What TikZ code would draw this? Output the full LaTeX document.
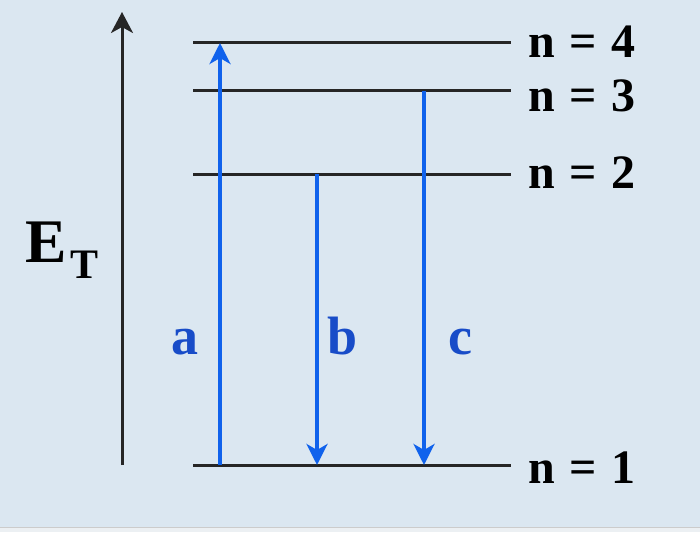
\documentclass[tikz,border=0pt]{standalone}
\usepackage{fontspec}
\setmainfont{Liberation Serif}
\usetikzlibrary{arrows.meta}
\definecolor{screen}{RGB}{219,231,241}
\definecolor{screenedge}{RGB}{236,240,243}
\definecolor{transblue}{RGB}{16,98,236}
\definecolor{labelblue}{RGB}{24,76,200}
\tikzset{
  level/.style={line width=3pt,black!85},
  axis/.style={line width=3pt,black!85,-{Stealth[length=21pt,width=22pt,inset=6pt]}},
  trans/.style={line width=4.2pt,transblue,-{Stealth[length=21pt,width=21pt,inset=6pt]}},
  nlabel/.style={anchor=base west,inner sep=0pt,font=\fontsize{48}{48}\selectfont\bfseries},
  tlabel/.style={anchor=base,inner sep=0pt,text=labelblue,font=\fontsize{54}{54}\selectfont\bfseries}
}
\begin{document}
\begin{tikzpicture}[x=1pt,y=-1pt]
  \useasboundingbox (0,0) rectangle (700,532);
  \fill[screen] (0,0) rectangle (700,532);
  \fill[screenedge] (0,527) rectangle (700,532);
  \draw[black!20,line width=1pt] (0,527)--(700,527);
  % energy axis
  \coordinate (e0) at (122,465);
  \coordinate (e1) at (122,12);
  \draw[axis] (e0)--(e1);
  \node (ET) [anchor=base,inner sep=0pt] at (62,262)
    {\bfseries\fontsize{62}{62}\selectfont E\hspace{3pt}\raisebox{-16pt}{\fontsize{42}{42}\selectfont T}};
  % levels
  \foreach \n/\y/\dy in {4/43/15,3/91/20,2/174/14,1/465/18}{
    \coordinate (l\n a) at (193,\y);
    \coordinate (l\n b) at (511,\y);
    \draw[level] (l\n a)--(l\n b);
    \node (n\n) [nlabel] at (528,\y+\dy) {n\hspace{0.3em}=\hspace{0.3em}\n};
  }
  % transitions
  \coordinate (a1) at (220,465);
  \coordinate (a4) at (220,43);
  \coordinate (b2) at (317,174);
  \coordinate (b1) at (317,465);
  \coordinate (c3) at (424,91);
  \coordinate (c1) at (424,465);
  \draw[trans] (a1)--(a4);
  \draw[trans] (b2)--(b1);
  \draw[trans] (c3)--(c1);
  \node (la) [tlabel] at (185,354) {a};
  \node (lb) [tlabel] at (343,354) {b};
  \node (lc) [tlabel] at (460,354) {c};
\end{tikzpicture}
\end{document}
